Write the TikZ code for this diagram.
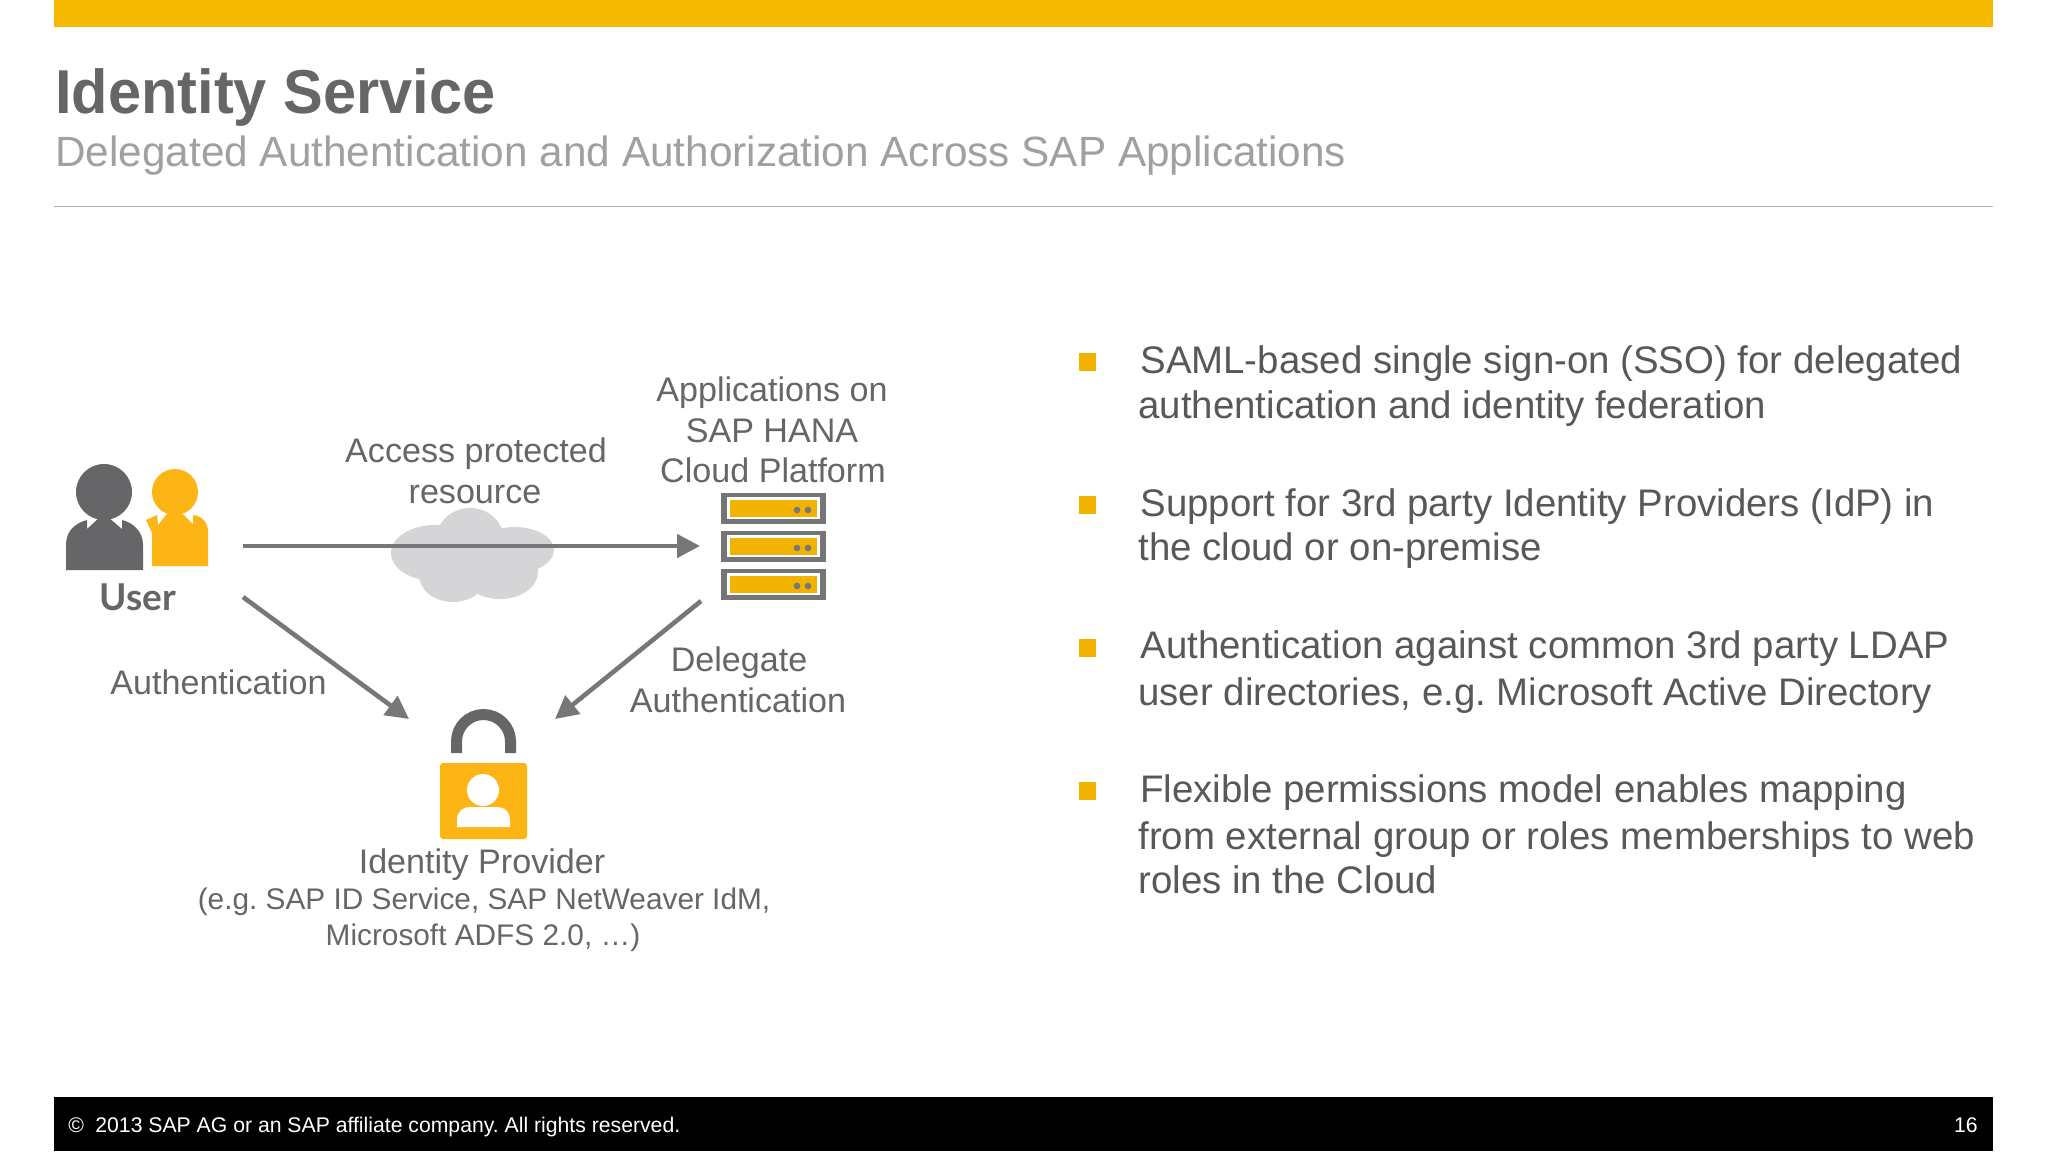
\documentclass[tikz,border=0pt]{standalone}
\usepackage{fontspec}
\setmainfont{Liberation Sans}
\newfontfamily\titlefont[FakeStretch=0.96]{Liberation Sans}
\newfontfamily\userfont{Lato}
\frenchspacing
\usetikzlibrary{arrows.meta}
\definecolor{sapbar}{HTML}{F5B900}
\definecolor{gold}{HTML}{FDB515}
\definecolor{srvgold}{HTML}{F2B200}
\definecolor{darkp}{HTML}{666668}
\definecolor{arrowc}{HTML}{77777A}
\definecolor{txt}{HTML}{666669}
\definecolor{bodytxt}{HTML}{58585A}
\definecolor{subt}{HTML}{A0A0A2}
\definecolor{cloudc}{HTML}{D5D5D7}
\definecolor{rulec}{HTML}{B0B0B0}
\tikzset{
  x=0.5pt,y=-0.5pt,
  lbl/.style={anchor=base,inner sep=0pt,text=txt,font=\fontsize{17.05}{20}\selectfont},
  small/.style={anchor=base,inner sep=0pt,text=txt,font=\fontsize{14.9}{18}\selectfont},
  bul/.style={anchor=base west,inner sep=0pt,text=bodytxt,font=\fontsize{19.2}{22}\selectfont},
  sq/.style={fill=srvgold,draw=none},
  conn/.style={draw=arrowc,line width=2.3pt,-{Triangle[length=11.5pt,width=11.5pt]}},
  foot/.style={inner sep=0pt,text=white,font=\fontsize{10.6}{13}\selectfont},
}
\begin{document}
\begin{tikzpicture}
\useasboundingbox (0,0) rectangle (2048,1152);
\fill[white] (0,0) rectangle (2048,1152);
% bars
\fill[sapbar] (54,0) rectangle (1993,27);
\fill[black] (54,1097) rectangle (1993,1151);
\draw[rulec,line width=0.7pt] (54,206.5) -- (1993,206.5);
% header
\node[anchor=base west,inner sep=0pt,text=darkp,font=\titlefont\fontsize{31}{34}\selectfont\bfseries] (title) at (55,113) {Identity Service};
\node[anchor=base west,inner sep=0pt,text=subt,font=\fontsize{21.15}{24}\selectfont] (subtitle) at (55,166) {Delegated Authentication and Authorization Across SAP Applications};
% footer
\node[foot,anchor=base west] (copy) at (68,1132) {©};
\node[foot,anchor=base west] (foottext) at (95,1132) {2013 SAP AG or an SAP affiliate company. All rights reserved.};
\node[foot,anchor=base east] (pageno) at (1978,1132) {16};
% user icon
\fill[darkp] (104,492) circle[radius=28];
\fill[darkp] (66,570) -- (66,545) .. controls (66,530) and (76,523) .. (87,520) -- (87,529) -- (100,517) -- (108,517) -- (122,529) -- (122,520) .. controls (134,523) and (143,532) .. (143,545) -- (143,570) -- cycle;
\fill[gold] (175,492) circle[radius=23];
\fill[gold] (152,566) -- (152,533) -- (146,520) -- (157,515) -- (158,525) -- (167,514) -- (183,514) -- (193,524) -- (193,515) .. controls (202,516) and (208,522) .. (208,532) -- (208,566) -- cycle;
\node[anchor=base,inner sep=0pt,text=txt,font=\userfont\fontsize{18.5}{20}\selectfont\bfseries] (user) at (138,610) {User};
% cloud
\begin{scope}[cloudc]
\fill (435,553) ellipse[x radius=44,y radius=28];
\fill (515,550) ellipse[x radius=39,y radius=23];
\fill (470,540) ellipse[x radius=34,y radius=32];
\fill (453,575) ellipse[x radius=34,y radius=27];
\fill (500,572) ellipse[x radius=38,y radius=27];
\end{scope}
% server
\foreach \yy in {493,531,569} {
  \fill[darkp!90!white] (721,\yy) rectangle (826,\yy+31);
  \fill[white] (727,\yy+4) rectangle (820,\yy+26);
  \fill[srvgold] (730,\yy+7) rectangle (817,\yy+24);
  \fill[arrowc] (797,\yy+17) circle[radius=3.3];
  \fill[arrowc] (808,\yy+17) circle[radius=3.3];
}
% lock
\draw[darkp,line width=5.5pt] (456.5,753) -- (456.5,741.5) arc[start angle=180,end angle=360,x radius=27,y radius=27] -- (510.5,753);
\fill[gold,rounded corners=1.5pt] (440,763) rectangle (527,839);
\fill[white] (483,790) circle[radius=16];
\fill[white] (457,827) -- (457,820) .. controls (457,811) and (463,807) .. (470,807) -- (497,807) .. controls (504,807) and (510,811) .. (510,820) -- (510,827) -- cycle;
% connector ends
\coordinate (a1s) at (243,546);
\coordinate (a1e) at (700,546);
\coordinate (a2s) at (243,597);
\coordinate (a2e) at (409,719);
\coordinate (a3s) at (701,601);
\coordinate (a3e) at (555,719);
\draw[conn] (a1s) -- (a1e);
\draw[conn] (a2s) -- (a2e);
\draw[conn] (a3s) -- (a3e);
% labels
\node[lbl] (app1) at (772,401) {Applications on};
\node[lbl] (app2) at (772,442) {SAP HANA};
\node[lbl] (app3) at (773,482) {Cloud Platform};
\node[lbl] (acc1) at (476,462) {Access protected};
\node[lbl] (acc2) at (475,503) {resource};
\node[lbl,anchor=base west] (auth) at (110,694) {Authentication};
\node[lbl] (del1) at (739,671) {Delegate};
\node[lbl] (del2) at (738,712) {Authentication};
\node[lbl] (idp1) at (482,873) {Identity Provider};
\node[small] (idp2) at (484,909) {(e.g. SAP ID Service, SAP NetWeaver IdM,};
\node[small] (idp3) at (483,945) {Microsoft ADFS 2.0, …)};
% bullets
\fill[sq] (1079,353) rectangle (1096,371);
\fill[sq] (1079,496) rectangle (1096,514);
\fill[sq] (1079,639) rectangle (1096,657);
\fill[sq] (1079,782) rectangle (1096,800);
\node[bul] (b1a) at (1140,373) {SAML-based single sign-on (SSO) for delegated};
\node[bul] (b1b) at (1138,418) {authentication and identity federation};
\node[bul] (b2a) at (1140,516) {Support for 3rd party Identity Providers (IdP) in};
\node[bul] (b2b) at (1138,560) {the cloud or on-premise};
\node[bul] (b3a) at (1140,658) {Authentication against common 3rd party LDAP};
\node[bul] (b3b) at (1138,705) {user directories, e.g. Microsoft Active Directory};
\node[bul] (b4a) at (1140,802) {Flexible permissions model enables mapping};
\node[bul] (b4b) at (1138,849) {from external group or roles memberships to web};
\node[bul] (b4c) at (1138,893) {roles in the Cloud};
\end{tikzpicture}
\end{document}
